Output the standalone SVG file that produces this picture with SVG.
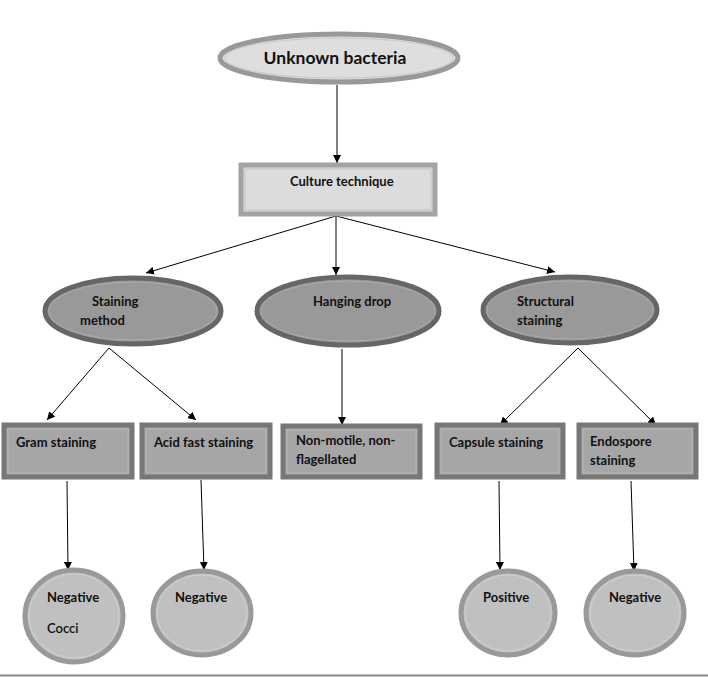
<svg xmlns="http://www.w3.org/2000/svg" width="708" height="677" viewBox="0 0 708 677">
<style>
text{font-family:Lato,"Liberation Sans",Arial,sans-serif;font-weight:bold;fill:#111;font-size:13px}
.e0o{fill:#dedede;stroke:#999;stroke-width:5}
.e0i{fill:none;stroke:#c8c8c8;stroke-width:1}
.r0o{fill:#dcdcdc;stroke:#a3a3a3;stroke-width:5}
.r0i{fill:none;stroke:#c4c4c4;stroke-width:1}
.e1o{fill:#999;stroke:#666;stroke-width:5}
.e1i{fill:none;stroke:#aaa;stroke-width:1}
.r1o{fill:#a6a6a6;stroke:#777;stroke-width:5}
.r1i{fill:none;stroke:#b5b5b5;stroke-width:1}
.c1o{fill:#c0c0c0;stroke:#999;stroke-width:5}
.c1i{fill:none;stroke:#d0d0d0;stroke-width:1}
.ln{stroke:#000;stroke-width:1;fill:none;marker-end:url(#ah)}
</style>
<defs>
<marker id="ah" viewBox="0 0 10 10" refX="10" refY="5" markerWidth="8" markerHeight="8" markerUnits="userSpaceOnUse" orient="auto">
<path d="M0,0L10,5L0,10z" fill="#000"/>
</marker>
</defs>
<rect width="708" height="677" fill="#fff"/>
<g id="connectors">
<line class="ln" x1="337" y1="85" x2="337" y2="163"/>
<line class="ln" x1="336" y1="216" x2="146" y2="273"/>
<line class="ln" x1="336" y1="216" x2="336" y2="275"/>
<line class="ln" x1="336" y1="216" x2="555" y2="272"/>
<line class="ln" x1="109" y1="348" x2="47" y2="420"/>
<line class="ln" x1="109" y1="348" x2="196" y2="420"/>
<line class="ln" x1="342" y1="349" x2="342" y2="425"/>
<line class="ln" x1="578" y1="348" x2="500" y2="425"/>
<line class="ln" x1="578" y1="348" x2="656" y2="425"/>
<line class="ln" x1="67" y1="481" x2="68" y2="570"/>
<line class="ln" x1="201" y1="480" x2="204" y2="570"/>
<line class="ln" x1="499" y1="481" x2="500" y2="570"/>
<line class="ln" x1="631" y1="481" x2="634" y2="571"/>
</g>
<g id="n-unknown">
<ellipse class="e0o" cx="339" cy="58" rx="119" ry="24"/>
<ellipse class="e0i" cx="339" cy="58" rx="114" ry="20"/>
<text x="335" y="64" text-anchor="middle" style="font-size:17.5px">Unknown bacteria</text>
</g>
<g id="n-culture">
<rect class="r0o" x="241" y="165" width="194" height="49"/>
<rect class="r0i" x="245" y="169" width="186" height="41"/>
<text x="290" y="186">Culture technique</text>
</g>
<g id="n-staining">
<ellipse class="e1o" cx="133" cy="311" rx="88" ry="33"/>
<ellipse class="e1i" cx="133" cy="311" rx="84" ry="29"/>
<text x="92" y="306">Staining</text>
<text x="80" y="325">method</text>
</g>
<g id="n-hanging">
<ellipse class="e1o" cx="348" cy="311" rx="91" ry="34"/>
<ellipse class="e1i" cx="348" cy="311" rx="87" ry="30"/>
<text x="313" y="306">Hanging drop</text>
</g>
<g id="n-structural">
<ellipse class="e1o" cx="570" cy="310" rx="87" ry="33"/>
<ellipse class="e1i" cx="570" cy="310" rx="83" ry="29"/>
<text x="517" y="306">Structural</text>
<text x="517" y="325">staining</text>
</g>
<g id="n-gram">
<rect class="r1o" x="4" y="425" width="128" height="52"/>
<rect class="r1i" x="8" y="429" width="120" height="44"/>
<text x="16" y="447">Gram staining</text>
</g>
<g id="n-acid">
<rect class="r1o" x="142" y="425" width="128" height="52"/>
<rect class="r1i" x="146" y="429" width="120" height="44"/>
<text x="154" y="447">Acid fast staining</text>
</g>
<g id="n-nonmotile">
<rect class="r1o" x="283" y="426" width="137" height="51"/>
<rect class="r1i" x="287" y="430" width="129" height="43"/>
<text x="296" y="445">Non-motile, non-</text>
<text x="296" y="464">flagellated</text>
</g>
<g id="n-capsule">
<rect class="r1o" x="437" y="425" width="126" height="52"/>
<rect class="r1i" x="441" y="429" width="118" height="44"/>
<text x="449" y="447">Capsule staining</text>
</g>
<g id="n-endospore">
<rect class="r1o" x="579" y="425" width="117" height="52"/>
<rect class="r1i" x="583" y="429" width="109" height="44"/>
<text x="590" y="446">Endospore</text>
<text x="590" y="465">staining</text>
</g>
<g id="n-neg1">
<ellipse class="c1o" cx="74" cy="616" rx="49" ry="46"/>
<ellipse class="c1i" cx="74" cy="616" rx="45" ry="42"/>
<text x="47" y="602">Negative</text>
<text x="47" y="633" style="font-weight:600">Cocci</text>
</g>
<g id="n-neg2">
<ellipse class="c1o" cx="202" cy="613" rx="49" ry="42"/>
<ellipse class="c1i" cx="202" cy="613" rx="45" ry="38"/>
<text x="175" y="602">Negative</text>
</g>
<g id="n-pos">
<ellipse class="c1o" cx="508" cy="613" rx="47" ry="42"/>
<ellipse class="c1i" cx="508" cy="613" rx="43" ry="38"/>
<text x="483" y="602">Positive</text>
</g>
<g id="n-neg3">
<ellipse class="c1o" cx="635" cy="613" rx="49" ry="42"/>
<ellipse class="c1i" cx="635" cy="613" rx="45" ry="38"/>
<text x="609" y="602">Negative</text>
</g>
<line x1="0" y1="675.5" x2="708" y2="675.5" stroke="#888" stroke-width="2"/>
</svg>
